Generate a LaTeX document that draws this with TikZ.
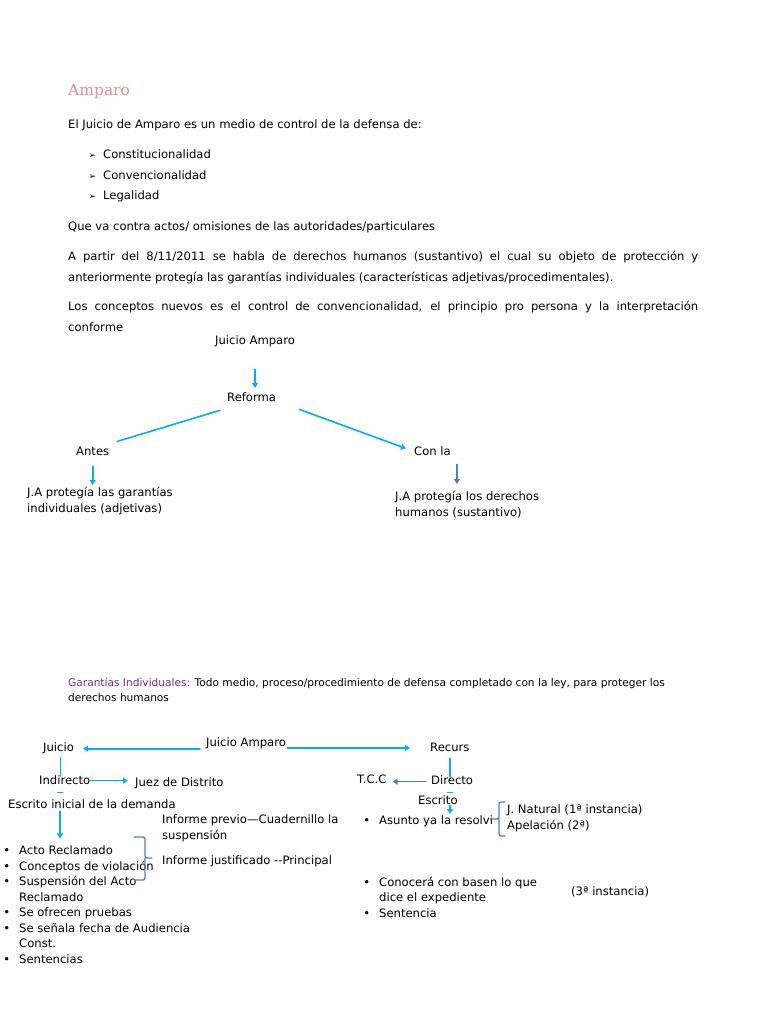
\documentclass[tikz,border=0pt]{standalone}
\usepackage{fontspec}
\setmainfont{DejaVu Sans}
\newfontfamily\titlefont{DejaVu Serif}
\usetikzlibrary{arrows.meta,positioning}
\definecolor{SkyArrow}{HTML}{00B0F0}
\definecolor{SteelArrow}{HTML}{4F81BD}
\definecolor{TitlePink}{HTML}{E39191}
\definecolor{TermPurple}{HTML}{7030A0}
\newcommand\bodysize{\fontsize{11.6}{15.5}\selectfont}
\newcommand\smallsize{\fontsize{10.6}{15}\selectfont}
\newcommand\arrowbullet{\llap{{\fontsize{9}{9}\selectfont ➢}\hspace{7pt}}}
\newcommand\dotbullet{\llap{•\hspace{9pt}}}

\begin{document}
\begin{tikzpicture}[x=1pt,y=-1pt,line cap=round,line join=round,
  txt/.style={inner sep=0pt,anchor=base west,font=\bodysize},
  lines/.style={txt,align=left},
  sky/.style={draw=SkyArrow,line width=1.6pt},
  skytip/.style={sky,-{Triangle[width=6pt,length=5pt]}},
  steel/.style={draw=SteelArrow,line width=1.6pt},
  steeltip/.style={steel,-{Triangle[width=6pt,length=5pt]}}]
  \useasboundingbox[fill=white] (0,0) rectangle (768,1024);

  % header text
  \node[txt,font=\titlefont\fontsize{15.5}{18}\selectfont,text=TitlePink] (title) at (68,96) {Amparo};
  \node[txt] (intro) at (68,129) {El Juicio de Amparo es un medio de control de la defensa de:};
  \node[txt] (b1) at (103,159) {\arrowbullet Constitucionalidad};
  \node[txt] (b2) at (103,179.5) {\arrowbullet Convencionalidad};
  \node[txt] (b3) at (103,200) {\arrowbullet Legalidad};
  \node[txt] (contra) at (68,230) {Que va contra actos/ omisiones de las autoridades/particulares};
  \node[txt] (part1) at (68,260) {\makebox[630pt][s]{A partir del 8/11/2011 se habla de derechos humanos (sustantivo) el cual su objeto de protección y}};
  \node[txt] (part2) at (68,281) {anteriormente protegía las garantías individuales (características adjetivas/procedimentales).};
  \node[txt] (conc1) at (68,310) {\makebox[630pt][s]{Los conceptos nuevos es el control de convencionalidad, el principio pro persona y la interpretación}};
  \node[txt] (conc2) at (68,331) {conforme};

  % first map
  \node[txt] (ja) at (215,344) {Juicio Amparo};
  \node[txt] (reforma) at (227,401) {Reforma};
  \node[txt] (antes) at (76,455) {Antes};
  \node[txt] (conla) at (414,455) {Con la};
  \node[lines] (garant) at (27,512) {J.A protegía las garantías\\individuales (adjetivas)};
  \node[lines] (derech) at (395,516) {J.A protegía los derechos\\humanos (sustantivo)};

  \draw[skytip] ([shift={(0,23)}]ja.south) -- ([shift={(0,-4)}]ja.south |- reforma.north);
  \draw[sky] ([shift={(-7,9)}]reforma.south west) -- ([shift={(8,-5)}]antes.north east);
  \draw[skytip] ([shift={(23,8)}]reforma.south east) -- ([shift={(-8,2.5)}]conla.north west);
  \draw[skytip] ([shift={(0,11)}]antes.south) -- ([shift={(0,-2)}]antes.south |- garant.north);
  \draw[steeltip] ([shift={(6,9)}]conla.south east) -- ([shift={(6,-7)}]conla.south east |- derech.north);

  % definition
  \node[txt,font=\smallsize,align=left] (defin) at (68,701)
    {\textcolor{TermPurple}{Garantías Individuales:} Todo medio, proceso/procedimiento de defensa completado con la ley, para proteger los\\derechos humanos};

  % second map
  \node[txt] (ja2) at (206,746) {Juicio Amparo};
  \node[txt] (juicio) at (43,751) {Juicio};
  \node[txt] (recurs) at (430,751) {Recurs};
  \node[txt] (indir) at (39,784) {Indirecto};
  \node[txt] (juez) at (135,786) {Juez de Distrito};
  \node[txt] (tcc) at (357,783) {T.C.C};
  \node[txt] (direc) at (431,784) {Directo};
  \node[txt] (escini) at (8,808) {Escrito inicial de la demanda};
  \node[txt] (escrito) at (418,804) {Escrito};
  \node[lines] (previo) at (162,839) {Informe previo—Cuadernillo la\\suspensión};
  \node[txt] (justif) at (162,864) {Informe justificado -{}-Principal};
  \node[lines] (listL) at (19,963) {\dotbullet Acto Reclamado\\\dotbullet Conceptos de violación\\\dotbullet Suspensión del Acto\\Reclamado\\\dotbullet Se ofrecen pruebas\\\dotbullet Se señala fecha de Audiencia\\Const.\\\dotbullet Sentencias};
  \node[txt] (asunto) at (379,824) {\dotbullet Asunto ya la resolvi};
  \node[lines] (natural) at (507,829) {J. Natural (1ª instancia)\\Apelación (2ª)};
  \node[lines] (conoce) at (379,917) {\dotbullet Conocerá con basen lo que\\dice el expediente\\\dotbullet Sentencia};
  \node[txt] (tercera) at (571,895) {(3ª instancia)};

  \draw[skytip] ([shift={(-6,1)}]ja2.west |- juicio.east) -- ([shift={(9,1)}]juicio.east);
  \draw[skytip] ([shift={(1,1)}]ja2.east |- recurs.west) -- ([shift={(-20,1)}]recurs.west);
  \draw[sky] ([shift={(2,4)}]juicio.south) -- ([shift={(2,1)}]juicio.south |- indir.north);
  \draw[skytip] ([shift={(0,1)}]indir.east) -- ([shift={(-7,1)}]indir.east -| juez.west);
  \draw[sky] ([shift={(-7,8)}]indir.south) -- ([shift={(-2,8)}]indir.south);
  \draw[skytip] ([shift={(52,3)}]escini.south west) -- ([shift={(52,-7)}]escini.south west |- listL.north);
  \draw[sky] ([shift={(0,7)}]recurs.south) -- ([shift={(0,2)}]recurs.south |- direc.north);
  \draw[steeltip] ([shift={(-5,2)}]direc.west) -- ([shift={(6,2)}]tcc.east |- direc.west);
  \draw[sky] ([shift={(-4.5,8)}]direc.south) -- ([shift={(0.5,8)}]direc.south);
  \draw[skytip] ([shift={(32,1)}]escrito.south west) -- ([shift={(32,-1)}]escrito.south west |- asunto.north);

  % braces
  \draw[steel,line width=1.3pt,rounded corners=2pt]
    (134,837) -- (145,837) -- (145,858) -- (152,858) (145,858) -- (145,880) -- (134,880);
  \draw[steel,line width=1.3pt,rounded corners=2pt]
    (505,802) -- (499,802) -- (499,819) -- (490,819) (499,819) -- (499,836) -- (505,836);
\end{tikzpicture}
\end{document}
